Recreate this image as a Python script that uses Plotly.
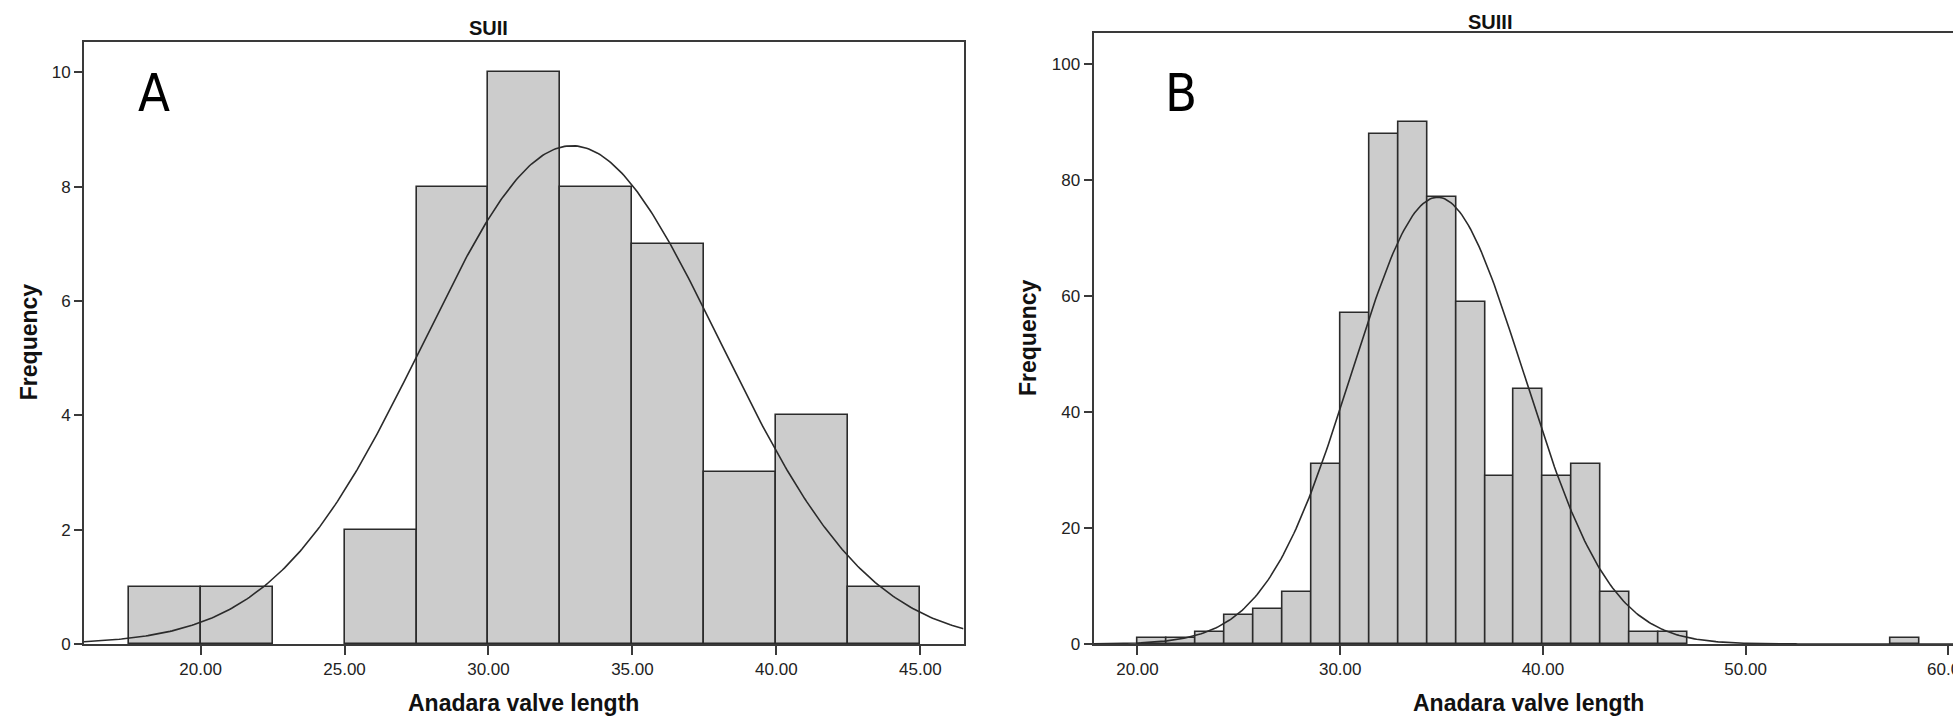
import numpy as np
import plotly.graph_objects as go

W, H = 1953, 724

# ---------------- data ----------------
# Panel A (SUII): bin width 2.5, first bin starts at 17.5
a_bin_start = 17.5
a_bin_width = 2.5
a_counts = [1, 1, 0, 2, 8, 10, 8, 7, 3, 4, 1]
a_mean, a_sd = 32.9, 5.15
a_x_ticks = [20, 25, 30, 35, 40, 45]
a_y_ticks = [0, 2, 4, 6, 8, 10]

# Panel B (SUIII): bin width 10/7, first bin starts at 20
b_bin_start = 20.0
b_bin_width = 10 / 7
b_counts = [1, 1, 2, 5, 6, 9, 31, 57, 88, 90, 77, 59, 29, 44, 29, 31, 9, 2, 2,
            0, 0, 0, 0, 0, 0, 0, 1]
b_mean, b_sd = 34.8, 4.24
b_x_ticks = [20, 30, 40, 50, 60]
b_y_ticks = [0, 20, 40, 60, 80, 100]

titles = ["SUII", "SUIII"]
panel_letters = ["A", "B"]
x_title = "Anadara valve length"
y_title = "Frequency"

# ---------------- styling ----------------
FONT = "Liberation Sans, Arial, sans-serif"
NARROW = "Liberation Sans Narrow, Arial Narrow, DejaVu Sans Condensed, sans-serif"
BAR_FILL = "#cccccc"
EDGE = "#2b2b2b"
FRAME = "#3a3a3a"

def px(x):
    return x / W

def py(y):
    return 1 - y / H

a_xrange = [15.95, 46.5]
a_yrange = [0, 10.53]
b_xrange = [17.83, 60.23]
b_yrange = [0, 105.35]

fig = go.Figure()

def add_hist(counts, start, width, mean, sd, xrange, xa, ya):
    xs, ys = [], []
    for i, c in enumerate(counts):
        if c > 0:
            xs.append(start + width * (i + 0.5))
            ys.append(c)
    fig.add_trace(go.Bar(x=xs, y=ys, width=[width] * len(xs),
                         marker=dict(color=BAR_FILL, line=dict(color=EDGE, width=1.6)),
                         xaxis=xa, yaxis=ya, showlegend=False, hoverinfo="skip"))
    n = sum(counts)
    gx = np.linspace(xrange[0], xrange[1], 400)
    gy = n * width / (sd * np.sqrt(2 * np.pi)) * np.exp(-0.5 * ((gx - mean) / sd) ** 2)
    fig.add_trace(go.Scatter(x=gx, y=gy, mode="lines",
                             line=dict(color=EDGE, width=1.6),
                             xaxis=xa, yaxis=ya, showlegend=False, hoverinfo="skip"))

add_hist(a_counts, a_bin_start, a_bin_width, a_mean, a_sd, a_xrange, "x", "y")
add_hist(b_counts, b_bin_start, b_bin_width, b_mean, b_sd, b_xrange, "x2", "y2")

tickfont = dict(family=FONT, size=17, color="#222")

common_x = dict(showgrid=False, zeroline=False, showline=True, linecolor=FRAME,
                linewidth=2, ticks="outside", ticklen=9, tickwidth=1.6,
                tickcolor=FRAME, tickfont=tickfont, tickformat=".2f",
                ticklabeloverflow="allow", automargin=False)
common_y = dict(showgrid=False, zeroline=False, showline=True, linecolor=FRAME,
                linewidth=2, ticks="outside", ticklen=8, tickwidth=1.6,
                tickcolor=FRAME, tickfont=tickfont, ticklabeloverflow="allow",
                automargin=False)

fig.update_layout(
    width=W, height=H,
    margin=dict(l=0, r=0, t=0, b=0, pad=0, autoexpand=False),
    paper_bgcolor="white", plot_bgcolor="white",
    bargap=0,
    xaxis=dict(common_x, domain=[px(84), px(963.5)], range=a_xrange,
               tickvals=a_x_ticks, mirror=True, anchor="y"),
    yaxis=dict(common_y, domain=[py(644), py(42)], range=a_yrange,
               tickvals=a_y_ticks, mirror=True, anchor="x"),
    xaxis2=dict(common_x, domain=[px(1093.5), 1], range=b_xrange,
                tickvals=b_x_ticks, mirror=True, anchor="y2"),
    yaxis2=dict(common_y, domain=[py(644), py(33)], range=b_yrange,
                tickvals=b_y_ticks, mirror=False, anchor="x2"),
)

ann = []
# titles
ann.append(dict(text="<b>%s</b>" % titles[0], x=px(488.7), y=py(28)))
ann.append(dict(text="<b>%s</b>" % titles[1], x=px(1489.5), y=py(21.5)))
for a in ann:
    a.update(font=dict(family=FONT, size=20, color="#111"))
# x titles
for cx in (523.7, 1528.6):
    ann.append(dict(text="<b>%s</b>" % x_title, x=px(cx), y=py(703),
                    font=dict(family=FONT, size=23, color="#111")))
# y titles
for cx, cy in ((28.5, 341.7), (1028, 338)):
    ann.append(dict(text="<b>%s</b>" % y_title, x=px(cx), y=py(cy), textangle=-90,
                    font=dict(family=FONT, size=23, color="#111")))
# panel letters
for (cx, cy), letter in zip(((154, 93), (1181, 93)), panel_letters):
    ann.append(dict(text=letter, x=px(cx), y=py(cy),
                    font=dict(family=NARROW, size=52, color="#000")))

for a in ann:
    a.update(xref="paper", yref="paper", showarrow=False,
             xanchor="center", yanchor="middle")
fig.update_layout(annotations=ann)

fig.write_html("out.html")
